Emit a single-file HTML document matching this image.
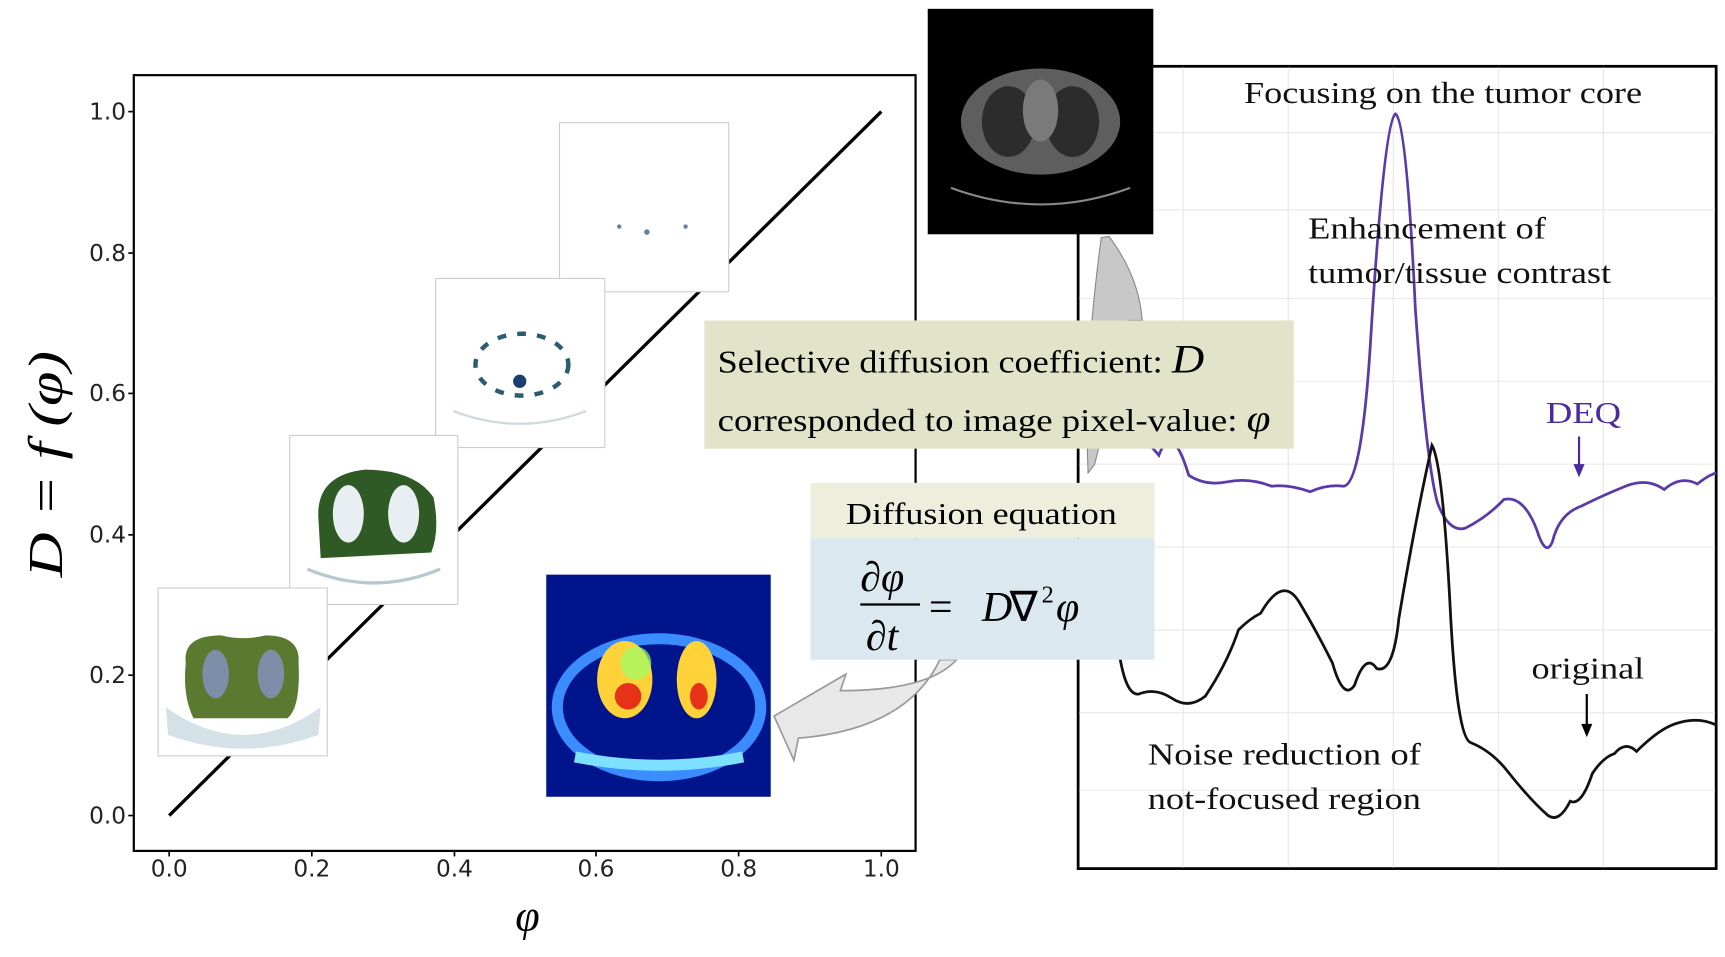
<!DOCTYPE html>
<html><head><meta charset="utf-8"><style>
html,body{margin:0;padding:0;background:#fff;}
svg{display:block;}
.s{font-family:"Liberation Serif",serif;}
.a{font-family:"DejaVu Sans","Liberation Sans",sans-serif;}
</style></head><body>
<svg width="1725" height="957" viewBox="0 0 1560 866" preserveAspectRatio="none" xmlns="http://www.w3.org/2000/svg">
<!-- left plot -->
<rect x="121" y="68" width="707" height="702" fill="#fff" stroke="#000" stroke-width="2"/>
<g class="a" font-size="21" fill="#222">
<text x="114" y="108" text-anchor="end">1.0</text>
<text x="114" y="236" text-anchor="end">0.8</text>
<text x="114" y="363" text-anchor="end">0.6</text>
<text x="114" y="491" text-anchor="end">0.4</text>
<text x="114" y="618" text-anchor="end">0.2</text>
<text x="114" y="745" text-anchor="end">0.0</text>
<text x="153" y="793" text-anchor="middle">0.0</text>
<text x="282" y="793" text-anchor="middle">0.2</text>
<text x="411" y="793" text-anchor="middle">0.4</text>
<text x="539" y="793" text-anchor="middle">0.6</text>
<text x="668" y="793" text-anchor="middle">0.8</text>
<text x="797" y="793" text-anchor="middle">1.0</text>
</g>
<g stroke="#000" stroke-width="1.5">
<line x1="121" y1="101" x2="116" y2="101"/><line x1="121" y1="229" x2="116" y2="229"/><line x1="121" y1="356" x2="116" y2="356"/><line x1="121" y1="484" x2="116" y2="484"/><line x1="121" y1="611" x2="116" y2="611"/><line x1="121" y1="738" x2="116" y2="738"/>
<line x1="153" y1="770" x2="153" y2="775"/><line x1="282" y1="770" x2="282" y2="775"/><line x1="411" y1="770" x2="411" y2="775"/><line x1="539" y1="770" x2="539" y2="775"/><line x1="668" y1="770" x2="668" y2="775"/><line x1="797" y1="770" x2="797" y2="775"/>
</g>
<text class="s" x="477" y="842" font-size="40" font-style="italic" text-anchor="middle">φ</text>
<text class="s" transform="translate(56,420) rotate(-90)" font-size="44" font-style="italic" text-anchor="middle" textLength="205" lengthAdjust="spacingAndGlyphs">D = f (φ)</text>
<line x1="153" y1="738" x2="797" y2="101" stroke="#000" stroke-width="3"/>
<!-- thumbnails -->
<rect x="506" y="111" width="153" height="153" fill="#fff" stroke="#ccc"/>
<g fill="#6a7fa0"><circle cx="560" cy="205" r="2"/><circle cx="585" cy="210" r="2.5"/><circle cx="620" cy="205" r="2"/></g>
<rect x="394" y="252" width="153" height="153" fill="#fff" stroke="#ccc"/>
<ellipse cx="472" cy="330" rx="42" ry="28" fill="none" stroke="#2c5c70" stroke-width="4" stroke-dasharray="8 10"/>
<circle cx="470" cy="345" r="6" fill="#1a3e6e"/>
<path d="M410 372 Q470 395 530 372" fill="none" stroke="#d0d8dd" stroke-width="2"/>
<rect x="262" y="394" width="152" height="153" fill="#fff" stroke="#ccc"/>
<path d="M288 470 Q285 430 330 425 Q375 425 392 450 Q398 480 390 500 L290 505 Z" fill="#2f5a25"/>
<ellipse cx="315" cy="465" rx="14" ry="26" fill="#e8eef2"/><ellipse cx="365" cy="465" rx="14" ry="26" fill="#e8eef2"/>
<path d="M278 515 Q338 540 398 515" fill="none" stroke="#b8c8cc" stroke-width="3"/>
<rect x="143" y="532" width="153" height="152" fill="#fff" stroke="#ccc"/>
<path d="M168 600 Q165 575 200 575 Q220 580 240 575 Q272 575 270 600 Q272 640 260 650 L175 650 Q165 630 168 600Z" fill="#5a7a30"/>
<ellipse cx="195" cy="610" rx="12" ry="22" fill="#7c8ea8"/><ellipse cx="245" cy="610" rx="12" ry="22" fill="#7c8ea8"/>
<path d="M150 640 Q220 690 290 640 L288 665 Q220 690 152 665Z" fill="#d4e2e8"/>
<!-- colormap image -->
<rect x="494" y="520" width="203" height="201" fill="#00148c"/>
<ellipse cx="596" cy="640" rx="92" ry="62" fill="none" stroke="#3a8cff" stroke-width="10"/>
<path d="M520 685 Q596 700 672 685" stroke="#7ee0ff" stroke-width="10" fill="none"/>
<ellipse cx="565" cy="615" rx="25" ry="35" fill="#ffd23a"/><ellipse cx="630" cy="615" rx="18" ry="35" fill="#ffd23a"/>
<ellipse cx="568" cy="630" rx="12" ry="12" fill="#e63218"/><ellipse cx="632" cy="630" rx="8" ry="12" fill="#e63218"/>
<ellipse cx="575" cy="600" rx="14" ry="15" fill="#9aff6a" opacity="0.7"/>
<!-- right panel -->
<rect x="975" y="60" width="577" height="726" fill="#fff" stroke="#000" stroke-width="2.5"/>
<g stroke="#e6e6e6" stroke-width="1">
<line x1="976" y1="120" x2="1551" y2="120"/><line x1="976" y1="190" x2="1551" y2="190"/><line x1="976" y1="270" x2="1551" y2="270"/><line x1="976" y1="345" x2="1551" y2="345"/><line x1="976" y1="420" x2="1551" y2="420"/><line x1="976" y1="495" x2="1551" y2="495"/><line x1="976" y1="570" x2="1551" y2="570"/><line x1="976" y1="645" x2="1551" y2="645"/><line x1="976" y1="715" x2="1551" y2="715"/>
<line x1="1070" y1="61" x2="1070" y2="785"/><line x1="1165" y1="61" x2="1165" y2="785"/><line x1="1260" y1="61" x2="1260" y2="785"/><line x1="1355" y1="61" x2="1355" y2="785"/><line x1="1450" y1="61" x2="1450" y2="785"/>
</g>
<path d="M1005 280 Q1030 330 1042 405 L1048 412 Q1060 380 1075 430 Q1090 440 1110 436 Q1130 432 1150 440 Q1165 438 1185 445 Q1200 438 1215 440 Q1232 438 1240 300 Q1252 110 1262 103 Q1272 110 1280 280 Q1290 420 1300 455 Q1310 482 1325 478 Q1345 468 1360 452 Q1378 448 1390 480 Q1398 505 1404 490 Q1410 465 1430 458 Q1450 448 1470 440 Q1490 432 1505 443 Q1520 430 1535 438 Q1545 430 1552 428" fill="none" stroke="#5a3aa8" stroke-width="2.5"/>
<path d="M1012 590 Q1018 630 1030 628 Q1045 622 1060 632 Q1075 642 1090 630 Q1110 600 1120 570 Q1130 560 1140 555 Q1160 520 1175 545 Q1190 570 1205 600 Q1215 635 1225 620 Q1235 590 1245 605 Q1260 610 1265 560 Q1280 470 1295 403 Q1305 420 1312 560 Q1318 668 1330 672 Q1350 680 1365 700 Q1385 725 1400 738 Q1410 745 1420 725 Q1430 730 1440 700 Q1450 685 1460 682 Q1470 670 1480 680 Q1500 660 1515 655 Q1535 648 1552 656" fill="none" stroke="#111" stroke-width="2.5"/>
<!-- CT image (on top of panel) -->
<rect x="839" y="8" width="204" height="204" fill="#000"/>
<ellipse cx="941" cy="110" rx="72" ry="48" fill="#5e5e5e"/>
<ellipse cx="912" cy="110" rx="24" ry="32" fill="#2c2c2c"/><ellipse cx="970" cy="110" rx="24" ry="32" fill="#2c2c2c"/>
<ellipse cx="941" cy="100" rx="16" ry="28" fill="#7a7a7a"/>
<path d="M860 170 Q941 200 1022 170" stroke="#888" stroke-width="2" fill="none"/>
<!-- gray arrows -->
<path d="M1003 214 Q1030 250 1033 290 L1020 290 Q1012 330 990 420 L984 428 Q980 330 996 215 Z" fill="#c8c8c8" stroke="#888"/>
<path d="M865 597 Q840 625 760 625 L765 610 L700 648 L718 688 L722 668 Q820 660 850 597 Z" fill="#e8e8e8" stroke="#999" stroke-width="1.5"/>
<!-- text boxes -->
<rect x="637" y="290" width="533" height="116" fill="#e1e4c8"/>
<text class="s" x="649" y="337" font-size="29" textLength="440" lengthAdjust="spacingAndGlyphs">Selective diffusion coefficient: <tspan font-style="italic" font-size="36">D</tspan></text>
<text class="s" x="649" y="390" font-size="29" textLength="500" lengthAdjust="spacingAndGlyphs">corresponded to image pixel-value: <tspan font-style="italic" font-size="34">φ</tspan></text>
<rect x="733" y="437" width="311" height="50" fill="#eeeedd"/>
<rect x="733" y="487" width="311" height="110" fill="#dce8ef"/>
<text class="s" x="765" y="474" font-size="28" textLength="245" lengthAdjust="spacingAndGlyphs">Diffusion equation</text>
<g class="s" font-style="italic" font-size="38">
<text x="778" y="535">∂φ</text>
<line x1="778" y1="547" x2="832" y2="547" stroke="#000" stroke-width="2"/>
<text x="783" y="588">∂t</text>
<text x="840" y="562" font-style="normal">=</text><text x="888" y="562">D</text><text x="913" y="562" font-style="normal">∇</text><text x="942" y="545" font-size="22" font-style="normal">2</text><text x="955" y="562">φ</text>
</g>
<g class="s" font-size="28" fill="#111">
<text x="1125" y="93" textLength="360" lengthAdjust="spacingAndGlyphs">Focusing on the tumor core</text>
<text x="1183" y="216" textLength="215" lengthAdjust="spacingAndGlyphs">Enhancement of</text>
<text x="1183" y="256" textLength="274" lengthAdjust="spacingAndGlyphs">tumor/tissue contrast</text>
<text x="1038" y="692" textLength="247" lengthAdjust="spacingAndGlyphs">Noise reduction of</text>
<text x="1038" y="732" textLength="247" lengthAdjust="spacingAndGlyphs">not-focused region</text>
<text x="1385" y="614" textLength="102" lengthAdjust="spacingAndGlyphs">original</text>
<text x="1398" y="383" fill="#4a2aa0" textLength="68" lengthAdjust="spacingAndGlyphs">DEQ</text>
</g>
<path d="M1428 395 L1428 425" stroke="#4a2aa0" stroke-width="2"/><path d="M1423 420 L1428 432 L1433 420Z" fill="#4a2aa0"/>
<path d="M1435 628 L1435 660" stroke="#000" stroke-width="2"/><path d="M1430 655 L1435 667 L1440 655Z" fill="#000"/>
</svg>
</body></html>
